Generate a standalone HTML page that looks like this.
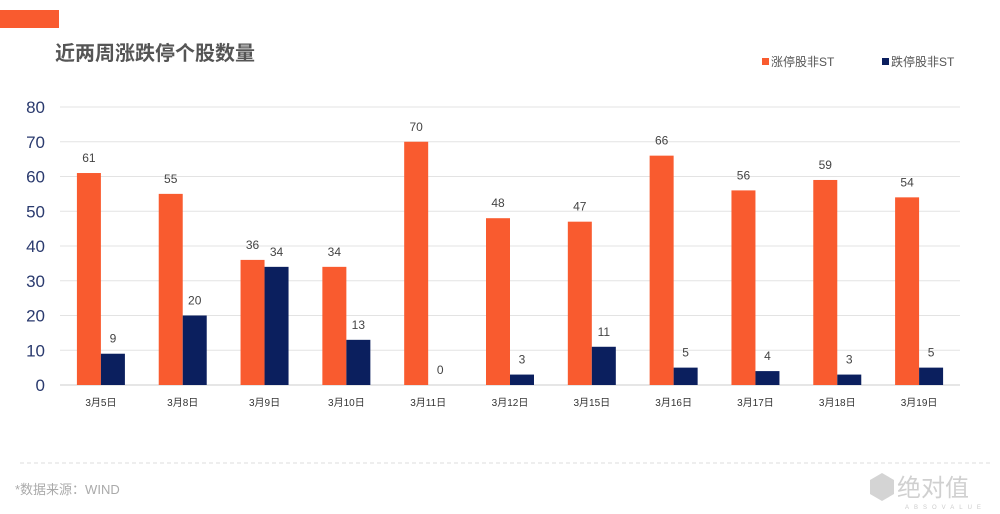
<!DOCTYPE html>
<html><head><meta charset="utf-8"><style>
body{margin:0;background:#fff;}
svg{display:block;font-family:"Liberation Sans","Noto Sans CJK SC",sans-serif;}
</style></head><body>
<svg id="chart" width="1000" height="514" viewBox="0 0 1000 514">
<rect x="0" y="10" width="59" height="18" fill="#f95b2f"/>
<text x="55" y="60" font-size="20" font-weight="bold" fill="#555">近两周涨跌停个股数量</text>
<g>
<g><rect x="762" y="58" width="7" height="7" fill="#f95b2f"/><text x="771" y="66" font-size="12" fill="#555">涨停股非ST</text></g>
<g><rect x="882" y="58" width="7" height="7" fill="#0b1f5e"/><text x="891" y="66" font-size="12" fill="#555">跌停股非ST</text></g>
</g>
<g id="grid"></g>
<g id="yaxis"></g>
<g id="bars"></g>
<g id="xaxis"></g>
<line x1="20" y1="463" x2="990" y2="463" stroke="#ddd" stroke-dasharray="4,3"/>
<text x="15" y="494" font-size="13" fill="#aaa">*数据来源：WIND</text>
<g fill="#d4d4d4">
<polygon points="870,480 882,473 894,480 894,494 882,501 870,494"/>
<text x="897" y="496" font-size="24" fill="#d0d0d0">绝对值</text>
<text x="905" y="509" font-size="6" fill="#ccc" letter-spacing="5">ABSOVALUE</text>
</g>
</svg>
<script>
const categories=["3月5日","3月8日","3月9日","3月10日","3月11日","3月12日","3月15日","3月16日","3月17日","3月18日","3月19日"];
const upValues=[61,55,36,34,70,48,47,66,56,59,54];
const downValues=[9,20,34,13,0,3,11,5,4,3,5];
const yTicks=[0,10,20,30,40,50,60,70,80];
const NS="http://www.w3.org/2000/svg";
const x0=60,x1=960,yBase=385,yTop=107,yMax=80;
const step=(x1-x0)/categories.length;
const xc=i=>x0+step*(i+0.5);
const ys=v=>yBase-(v/yMax)*(yBase-yTop);
function mk(tag,attrs,parent){const e=document.createElementNS(NS,tag);for(const k in attrs)e.setAttribute(k,attrs[k]);parent.appendChild(e);return e;}
const grid=document.getElementById('grid'),ya=document.getElementById('yaxis'),bars=document.getElementById('bars'),xa=document.getElementById('xaxis');
yTicks.forEach(t=>{
 const l=mk('line',{x1:x0,x2:x1,y1:ys(t),y2:ys(t),stroke:t===0?'#ccc':'#e3e3e3'},grid);
 
 
 const tx=mk('text',{x:45,y:ys(t)+6,'font-size':17,fill:'#2a3a6e','text-anchor':'end'},ya);
 tx.textContent=t;
 
 
});
const bw=24;
categories.forEach((c,i)=>{
 const cx=xc(i);
 const b1=mk('rect',{x:cx-bw,y:ys(upValues[i]),width:bw,height:yBase-ys(upValues[i]),fill:'#f95b2f'},bars);
 
 
 const b2=mk('rect',{x:cx,y:ys(downValues[i]),width:bw,height:yBase-ys(downValues[i]),fill:'#0b1f5e'},bars);
 
 
 const l1=mk('text',{x:cx-bw/2,y:ys(upValues[i])-11,'font-size':12,fill:'#444','text-anchor':'middle'},bars);
 l1.textContent=upValues[i];
 
 
 const l2=mk('text',{x:cx+bw/2,y:ys(downValues[i])-11,'font-size':12,fill:'#444','text-anchor':'middle'},bars);
 l2.textContent=downValues[i];
 
 
 const xl=mk('text',{x:cx,y:406,'font-size':10,fill:'#333','text-anchor':'middle'},xa);
 xl.textContent=c;
 
 
});
</script>
</body></html>
